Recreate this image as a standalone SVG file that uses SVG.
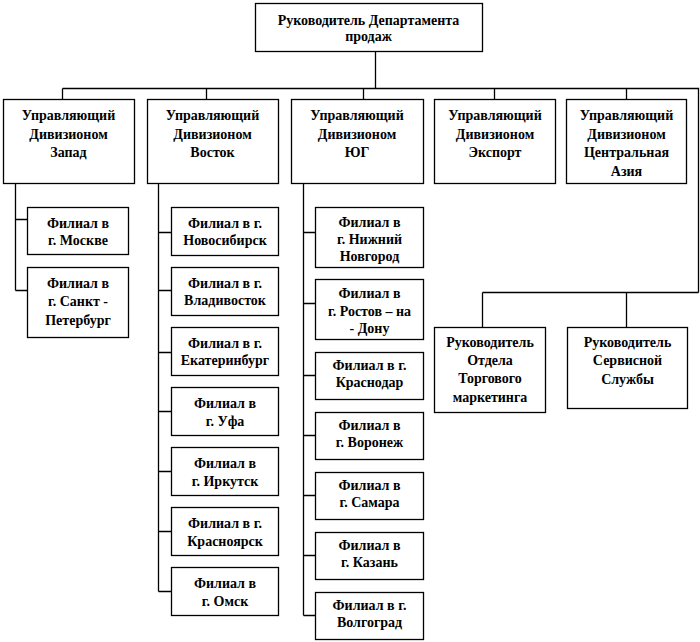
<svg xmlns="http://www.w3.org/2000/svg" width="700" height="642" viewBox="0 0 700 642">
<style>
.box{fill:#fff;stroke:#000;stroke-width:1.3}
.ln{fill:none;stroke:#000;stroke-width:1.3}
text{font-family:'Liberation Serif','Times New Roman','DejaVu Serif',serif;font-weight:bold;font-size:14px;text-anchor:middle;fill:#000}
</style>
<rect width="700" height="642" fill="#fff"/>
<g id="connectors" class="ln">
<path d="M375.5,51 V88.5"/>
<path d="M62.5,88.5 H698.5 V292.5"/>
<path d="M62.5,88.5 V99 M206.5,88.5 V99 M363.5,88.5 V99 M494.5,88.5 V99 M626.5,88.5 V99"/>
<path d="M15.5,183 V290.5 M15.5,219.5 H27 M15.5,290.5 H27"/>
<path d="M158.5,183 V591.5 M158.5,232.5 H171 M158.5,290.5 H171 M158.5,352.5 H171 M158.5,411.5 H171 M158.5,471.5 H171 M158.5,531.5 H171 M158.5,591.5 H171"/>
<path d="M303.5,183 V615.5 M303.5,232.5 H315 M303.5,303.5 H315 M303.5,375.5 H315 M303.5,435.5 H315 M303.5,495.5 H315 M303.5,555.5 H315 M303.5,615.5 H315"/>
<path d="M482.5,292.5 H698.5 M482.5,292.5 V327 M626.5,292.5 V327"/>
</g>
<g id="head"><rect class="box" x="255.5" y="3.5" width="227" height="48"/><text x="368.5" y="25">Руководитель Департамента</text><text x="368.5" y="41">продаж</text></g>
<g id="div-west"><rect class="box" x="3.5" y="99.5" width="131" height="84"/><text x="68.5" y="120">Управляющий</text><text x="68.5" y="139">Дивизионом</text><text x="68.5" y="157">Запад</text></g>
<g id="div-east"><rect class="box" x="147.5" y="99.5" width="131" height="84"/><text x="212.5" y="120">Управляющий</text><text x="212.5" y="139">Дивизионом</text><text x="212.5" y="157">Восток</text></g>
<g id="div-south"><rect class="box" x="291.5" y="99.5" width="132" height="84"/><text x="357" y="120">Управляющий</text><text x="357" y="139">Дивизионом</text><text x="357" y="157">ЮГ</text></g>
<g id="div-export"><rect class="box" x="434.5" y="99.5" width="121" height="84"/><text x="495" y="120">Управляющий</text><text x="495" y="139">Дивизионом</text><text x="495" y="157">Экспорт</text></g>
<g id="div-asia"><rect class="box" x="566.5" y="99.5" width="120" height="84"/><text x="626.5" y="120">Управляющий</text><text x="626.5" y="139">Дивизионом</text><text x="626.5" y="157">Центральная</text><text x="626.5" y="176">Азия</text></g>
<g id="b-moscow"><rect class="box" x="27.5" y="207.5" width="101" height="47"/><text x="78" y="228">Филиал в</text><text x="78" y="245">г. Москве</text></g>
<g id="b-spb"><rect class="box" x="27.5" y="267.5" width="101" height="70"/><text x="78" y="288">Филиал в</text><text x="78" y="306">г. Санкт -</text><text x="78" y="325">Петербург</text></g>
<g id="b-nsk"><rect class="box" x="171.5" y="207.5" width="107" height="48"/><text x="225" y="228">Филиал в г.</text><text x="225" y="245">Новосибирск</text></g>
<g id="b-vlad"><rect class="box" x="171.5" y="267.5" width="107" height="48"/><text x="225" y="288">Филиал в г.</text><text x="225" y="305">Владивосток</text></g>
<g id="b-ekb"><rect class="box" x="171.5" y="327.5" width="107" height="48"/><text x="225" y="348">Филиал в г.</text><text x="225" y="365">Екатеринбург</text></g>
<g id="b-ufa"><rect class="box" x="171.5" y="387.5" width="107" height="48"/><text x="225" y="408">Филиал в</text><text x="225" y="426">г. Уфа</text></g>
<g id="b-irk"><rect class="box" x="171.5" y="447.5" width="107" height="48"/><text x="225" y="468">Филиал в</text><text x="225" y="486">г. Иркутск</text></g>
<g id="b-krsk"><rect class="box" x="171.5" y="507.5" width="107" height="48"/><text x="225" y="528">Филиал в г.</text><text x="225" y="546">Красноярск</text></g>
<g id="b-omsk"><rect class="box" x="171.5" y="567.5" width="107" height="48"/><text x="225" y="588">Филиал в</text><text x="225" y="606">г. Омск</text></g>
<g id="b-nn"><rect class="box" x="315.5" y="207.5" width="108" height="60"/><text x="369.5" y="227">Филиал в</text><text x="369.5" y="244">г. Нижний</text><text x="369.5" y="261">Новгород</text></g>
<g id="b-rostov"><rect class="box" x="315.5" y="279.5" width="108" height="60"/><text x="369.5" y="298">Филиал в</text><text x="369.5" y="316">г. Ростов – на</text><text x="369.5" y="333">- Дону</text></g>
<g id="b-krd"><rect class="box" x="315.5" y="352.5" width="108" height="47"/><text x="369.5" y="370">Филиал в г.</text><text x="369.5" y="387">Краснодар</text></g>
<g id="b-vrn"><rect class="box" x="315.5" y="412.5" width="108" height="47"/><text x="369.5" y="430">Филиал в</text><text x="369.5" y="447">г. Воронеж</text></g>
<g id="b-sam"><rect class="box" x="315.5" y="472.5" width="108" height="47"/><text x="369.5" y="490">Филиал в</text><text x="369.5" y="507">г. Самара</text></g>
<g id="b-kzn"><rect class="box" x="315.5" y="532.5" width="108" height="47"/><text x="369.5" y="550">Филиал в</text><text x="369.5" y="567">г. Казань</text></g>
<g id="b-vlg"><rect class="box" x="315.5" y="592.5" width="108" height="47"/><text x="369.5" y="610">Филиал в г.</text><text x="369.5" y="627">Волгоград</text></g>
<g id="mkt"><rect class="box" x="434.5" y="327.5" width="111" height="85"/><text x="490" y="347">Руководитель</text><text x="490" y="365">Отдела</text><text x="490" y="383">Торгового</text><text x="490" y="402">маркетинга</text></g>
<g id="svc"><rect class="box" x="567.5" y="327.5" width="120" height="81"/><text x="627.5" y="347">Руководитель</text><text x="627.5" y="365">Сервисной</text><text x="627.5" y="384">Службы</text></g>
</svg>
